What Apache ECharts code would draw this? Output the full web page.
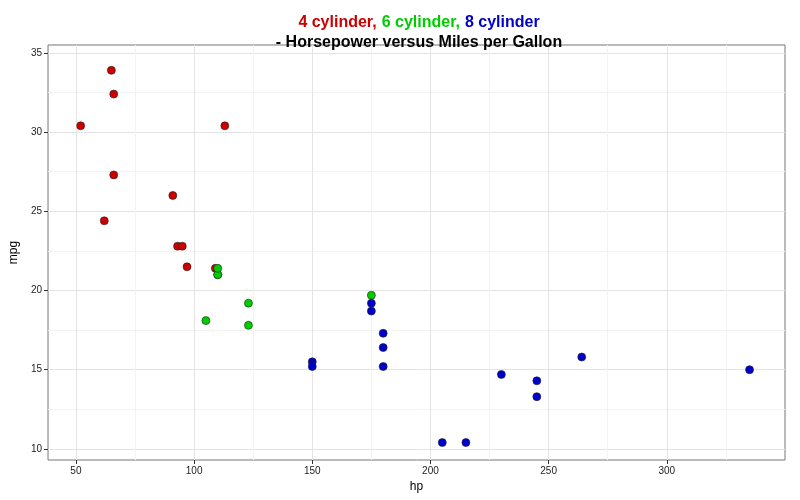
<!DOCTYPE html><html><head><meta charset="utf-8"><script src="https://cdn.jsdelivr.net/npm/echarts@6/dist/echarts.min.js"></script></head><body style="margin:0"><div id="c" style="width:800px;height:500px"></div><script>
const hp4=[93,62,95,66,52,65,97,66,91,113,109];
const mpg4=[22.8,24.4,22.8,32.4,30.4,33.9,21.5,27.3,26.0,30.4,21.4];
const hp6=[110,110,110,105,123,123,175];
const mpg6=[21.0,21.0,21.4,18.1,19.2,17.8,19.7];
const hp8=[175,245,180,180,180,205,215,230,150,150,245,175,264,335];
const mpg8=[18.7,14.3,16.4,17.3,15.2,10.4,10.4,14.7,15.5,15.2,13.3,19.2,15.8,15.0];
const xTicks=[50,100,150,200,250,300], xMinor=[75,125,175,225,275,325];
const yTicks=[10,15,20,25,30,35], yMinor=[12.5,17.5,22.5,27.5,32.5];
const zip=(a,b)=>a.map((v,i)=>[v,b[i]]);
const font='Liberation Sans, Arial, sans-serif';
function mk(type,min,max,major,minor,name){
 const pos=type==='x'?'bottom':'left';
 return [{type:'value',position:pos,min,max,name,nameLocation:'middle',nameGap:type==='x'?20:28,nameTextStyle:{fontSize:12,color:'#000',fontFamily:font},
  axisLine:{show:false},axisTick:{show:true,customValues:major,length:4,lineStyle:{color:'#333'}},
  axisLabel:{customValues:major,fontSize:10,color:'#222',fontFamily:font,margin:6},
  splitLine:{show:true,lineStyle:{color:'#e4e4e4'}}},
 {type:'value',position:pos,min,max,axisLine:{show:false},axisTick:{show:false,customValues:minor},axisLabel:{show:false,customValues:minor},splitLine:{show:true,lineStyle:{color:'#f3f3f3'}}}];
}
const xs=mk('x',38.2,350,xTicks,xMinor,'hp'), ys=mk('y',9.3,35.5,yTicks,yMinor,'mpg');
const sty=c=>({color:c,borderColor:'#222',borderWidth:0.6,opacity:1});
const chart=echarts.init(document.getElementById('c'));
chart.setOption({animation:false,backgroundColor:'#fff',
 title:{left:414,textAlign:'center',top:8,text:'{r|4 cylinder,} {g|6 cylinder,} {b|8 cylinder}\n{k|- Horsepower versus Miles per Gallon}',
  textStyle:{rich:{r:{color:'#CC0000',fontSize:16,fontWeight:'bold',fontFamily:font,lineHeight:20},g:{color:'#00CC00',fontSize:16,fontWeight:'bold',fontFamily:font,lineHeight:20},b:{color:'#0000CC',fontSize:16,fontWeight:'bold',fontFamily:font,lineHeight:20},k:{color:'#000',fontSize:16,fontWeight:'bold',fontFamily:font,lineHeight:20}}}},
 grid:{left:43,right:15,top:45,bottom:40,show:true,borderColor:'#777',borderWidth:1,backgroundColor:'transparent'},
 xAxis:[xs[1],xs[0]],
 yAxis:[ys[1],ys[0]],
 series:[
  {type:'scatter',xAxisIndex:1,yAxisIndex:1,symbolSize:8,itemStyle:sty('#CC0000'),data:zip(hp4,mpg4)},
  {type:'scatter',xAxisIndex:1,yAxisIndex:1,symbolSize:8,itemStyle:sty('#00CC00'),data:zip(hp6,mpg6)},
  {type:'scatter',xAxisIndex:1,yAxisIndex:1,symbolSize:8,itemStyle:sty('#0000CC'),data:zip(hp8,mpg8)}]
});
</script></body></html>
